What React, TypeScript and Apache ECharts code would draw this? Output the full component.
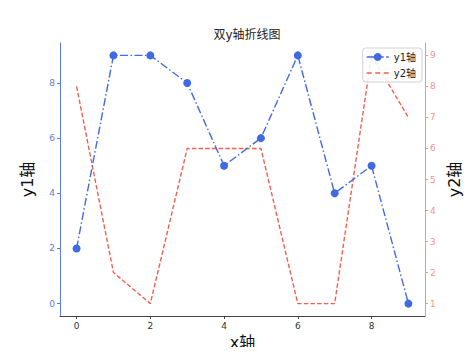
import React, { useEffect, useRef } from "react";
import * as echarts from "echarts";

const xValues = [0, 1, 2, 3, 4, 5, 6, 7, 8, 9];
const y1Values = [2, 9, 9, 8, 5, 6, 9, 4, 5, 0];
const y2Values = [8, 2, 1, 6, 6, 6, 1, 1, 9, 7];
const xTicks = [0, 2, 4, 6, 8];
const y1Ticks = [0, 2, 4, 6, 8];
const y2Ticks = [1, 2, 3, 4, 5, 6, 7, 8, 9];

const FONT = "DejaVu Sans, Noto Sans CJK SC, sans-serif";
const BLUE = "#4169E1";
const BLUE_AXIS = "#5B7BE0";
const RED = "#F2604C";
const RED_AXIS = "#F49488";

const ICON_Y1 =
  "path://M0,3.3h8v1.4h-8z M11,0a4,4 0 1,1 -0.01,0z M14,3.3h3v1.4h-3z M19.5,3.3h2.5v1.4h-2.5z";
const ICON_Y2 =
  "path://M0,3.3h5v1.4h-5z M8.5,3.3h5v1.4h-5z M17,3.3h5v1.4h-5z";

export default function App() {
  const ref = useRef<HTMLDivElement>(null);
  useEffect(() => {
    if (!ref.current) return;
    const chart = echarts.init(ref.current, undefined, { renderer: "svg" });
    chart.setOption({
      animation: false,
      backgroundColor: "#ffffff",
      textStyle: { fontFamily: FONT },
      title: {
        text: "双y轴折线图",
        left: 242,
        top: 24,
        textAlign: "center",
        textStyle: { fontSize: 12, fontWeight: "normal", color: "#222", fontFamily: FONT },
      },
      legend: {
        orient: "vertical",
        right: 52,
        top: 48,
        itemWidth: 22,
        itemHeight: 8,
        itemGap: 6,
        padding: [4, 6, 4, 4],
        borderColor: "#d0d0d0",
        borderWidth: 1,
        borderRadius: 3,
        backgroundColor: "rgba(255,255,255,0.85)",
        textStyle: { fontSize: 10, color: "#222", fontFamily: FONT },
        data: [
          { name: "y1轴", icon: ICON_Y1, itemStyle: { color: BLUE } },
          { name: "y2轴", icon: ICON_Y2, itemStyle: { color: RED } },
        ],
      },
      grid: { left: 60, right: 49, top: 43, bottom: 39, containLabel: false, outerBoundsMode: "none" },
      xAxis: {
        type: "value",
        min: -0.45,
        max: 9.45,
        name: "x轴",
        nameLocation: "middle",
        nameGap: 18,
        nameTextStyle: { fontSize: 16, color: "#111", fontFamily: FONT },
        splitLine: { show: false },
        axisLine: { show: true, onZero: false, lineStyle: { color: "#444", width: 1 } },
        axisTick: { show: true, length: 3, customValues: xTicks, lineStyle: { color: "#444" } },
        axisLabel: { customValues: xTicks, fontSize: 9, color: "#333", margin: 5 },
      },
      yAxis: [
        {
          type: "value",
          position: "left",
          min: -0.45,
          max: 9.45,
          name: "y1轴",
          nameLocation: "middle",
          nameRotate: 90,
          nameGap: 25,
          nameTextStyle: { fontSize: 16, color: "#111", fontFamily: FONT },
          splitLine: { show: false },
          axisLine: { show: true, onZero: false, lineStyle: { color: BLUE_AXIS, width: 1 } },
          axisTick: { show: true, length: 3, customValues: y1Ticks, lineStyle: { color: BLUE_AXIS } },
          axisLabel: { customValues: y1Ticks, fontSize: 9, color: BLUE_AXIS, margin: 5 },
        },
        {
          type: "value",
          position: "right",
          min: 0.6,
          max: 9.4,
          name: "y2轴",
          nameLocation: "middle",
          nameRotate: 90,
          nameGap: 19,
          nameTextStyle: { fontSize: 16, color: "#111", fontFamily: FONT },
          splitLine: { show: false },
          axisLine: { show: true, onZero: false, lineStyle: { color: RED_AXIS, width: 1 } },
          axisTick: { show: true, length: 3, customValues: y2Ticks, lineStyle: { color: RED_AXIS } },
          axisLabel: { customValues: y2Ticks, fontSize: 9, color: RED_AXIS, margin: 5 },
        },
      ],
      series: [
        {
          name: "y1轴",
          type: "line",
          yAxisIndex: 0,
          data: xValues.map((x, i) => [x, y1Values[i]]),
          symbol: "circle",
          symbolSize: 8,
          itemStyle: { color: BLUE },
          lineStyle: { color: BLUE, width: 1.4, type: [8, 2.5, 1.5, 2.5] },
          z: 3,
        },
        {
          name: "y2轴",
          type: "line",
          yAxisIndex: 1,
          data: xValues.map((x, i) => [x, y2Values[i]]),
          showSymbol: false,
          symbol: "none",
          itemStyle: { color: RED },
          lineStyle: { color: RED, width: 1.4, type: [4.5, 2.2] },
          z: 2,
        },
      ],
    });
    return () => chart.dispose();
  }, []);
  return <div ref={ref} style={{ width: 474, height: 355, margin: -8 }} />;
}
